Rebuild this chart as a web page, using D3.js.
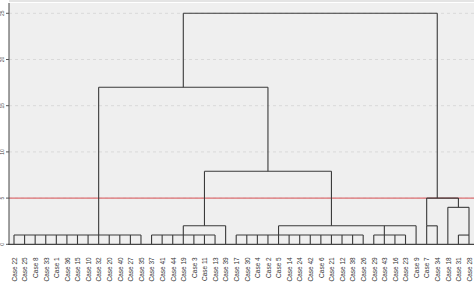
<!DOCTYPE html>
<html>
<head>
<meta charset="utf-8">
<script src="https://cdn.jsdelivr.net/npm/d3@7"></script>
<style>
body { margin: 0; background: #fff; }
svg text { font-family: "Liberation Sans", Arial, sans-serif; }
</style>
</head>
<body>
<div id="chart"></div>
<script>
var width = 474;
var height = 286;

// leaf order along the bottom
var cases = ["Case 22", "Case 25", "Case 8", "Case 33", "Case 1", "Case 36", "Case 15",
  "Case 10", "Case 32", "Case 20", "Case 40", "Case 27", "Case 35", "Case 37", "Case 41",
  "Case 44", "Case 19", "Case 3", "Case 11", "Case 13", "Case 39", "Case 17", "Case 30",
  "Case 4", "Case 2", "Case 5", "Case 14", "Case 24", "Case 42", "Case 6", "Case 21",
  "Case 12", "Case 38", "Case 26", "Case 29", "Case 43", "Case 16", "Case 23", "Case 9",
  "Case 7", "Case 34", "Case 18", "Case 31", "Case 28"];

// clusters (rescaled distance), children are leaves or earlier clusters
var nodeNames = ["A", "B1", "B", "C1", "C2", "C", "BC", "ABC", "D1", "D2", "D3", "D", "root"];
var nodeHeights = [1, 1, 2, 1, 1, 2, 7.9, 17, 2, 1, 4, 5, 25];
var nodeChildren = [
  cases.slice(0, 13),
  cases.slice(13, 20),
  ["B1", "Case 39"],
  cases.slice(21, 34),
  ["Case 29", "Case 43", "Case 16", "Case 23"],
  ["C1", "C2", "Case 9"],
  ["B", "C"],
  ["A", "BC"],
  ["Case 7", "Case 34"],
  ["Case 31", "Case 28"],
  ["Case 18", "D2"],
  ["D1", "D3"],
  ["ABC", "D"]
];
// leaf where the link to the parent is attached (null = centre)
var nodeAnchor = ["Case 32", null, null, "Case 5", "Case 43", "Case 21", null, null,
  "Case 7", "Case 28", null, "Case 34", null];

var yTicks = [0, 5, 10, 15, 20, 25];
var cutHeight = 5;

var plotLeft = 9, plotBottom = 244.3, plotTop = 13.3, plotRight = 474;

var svg = d3.select("#chart").append("svg")
  .attr("width", width)
  .attr("height", height);

var xScale = d3.scalePoint().domain(cases).range([14, 469]);
var yScale = d3.scaleLinear().domain([0, 25]).range([plotBottom, plotTop]);

// panel
svg.append("rect").attr("x", plotLeft).attr("y", 0).attr("width", plotRight - plotLeft).attr("height", 2)
  .attr("fill", "#e4e4e4");
svg.append("rect").attr("x", plotLeft).attr("y", 3).attr("width", plotRight - plotLeft).attr("height", plotBottom - 3)
  .attr("fill", "#efefef");

// grid
svg.append("g").selectAll("line").data(yTicks.slice(1)).enter().append("line")
  .attr("x1", plotLeft).attr("x2", plotRight)
  .attr("y1", function(d) { return yScale(d); })
  .attr("y2", function(d) { return yScale(d); })
  .attr("stroke", "#d9d9d9")
  .attr("stroke-dasharray", "3,3");

// cut line
svg.append("line")
  .attr("x1", plotLeft).attr("x2", plotRight)
  .attr("y1", yScale(cutHeight)).attr("y2", yScale(cutHeight))
  .attr("stroke", "#dc6f72").attr("stroke-width", 1.2);

// positions of leaves and clusters
var pos = {};
var hgt = {};
cases.forEach(function(c) { pos[c] = xScale(c); hgt[c] = 0; });
nodeNames.forEach(function(n, i) {
  var xs = nodeChildren[i].map(function(c) { return pos[c]; });
  pos[n] = nodeAnchor[i] ? xScale(nodeAnchor[i]) : (d3.min(xs) + d3.max(xs)) / 2;
  hgt[n] = nodeHeights[i];
});

var links = svg.append("g")
  .attr("stroke", "#3a3a3a")
  .attr("stroke-width", 1.1)
  .attr("fill", "none");

nodeNames.forEach(function(n, i) {
  var kids = nodeChildren[i];
  var xs = kids.map(function(c) { return pos[c]; });
  links.selectAll(null).data(kids).enter().append("line")
    .attr("x1", function(c) { return pos[c]; })
    .attr("x2", function(c) { return pos[c]; })
    .attr("y1", function(c) { return yScale(hgt[c]); })
    .attr("y2", yScale(nodeHeights[i]));
  links.append("line")
    .attr("x1", d3.min(xs)).attr("x2", d3.max(xs))
    .attr("y1", yScale(nodeHeights[i])).attr("y2", yScale(nodeHeights[i]));
});

// y axis
var yAxis = d3.axisLeft(yScale).tickValues(yTicks).tickSize(3).tickPadding(1);
var gy = svg.append("g").attr("transform", "translate(" + plotLeft + ",0)").call(yAxis);
gy.select(".domain").attr("stroke", "#444").attr("d", "M0," + plotBottom + "V3");
gy.selectAll(".tick line").attr("stroke", "#555");
gy.selectAll(".tick").attr("transform", null);
gy.selectAll(".tick line")
  .attr("y1", function(d) { return yScale(d); })
  .attr("y2", function(d) { return yScale(d); });
gy.selectAll("text")
  .attr("font-size", 5)
  .attr("fill", "#444")
  .attr("text-anchor", "middle")
  .attr("transform", "rotate(-90)")
  .attr("x", function(d) { return -yScale(d); })
  .attr("y", -5)
  .attr("dy", "0");

// x axis
var xAxis = d3.axisBottom(xScale).tickSize(0);
var gx = svg.append("g").attr("transform", "translate(0," + plotBottom + ")").call(xAxis);
gx.select(".domain").remove();
gx.selectAll("text")
  .attr("font-size", 6.5)
  .attr("fill", "#333")
  .attr("text-anchor", "end")
  .attr("transform", "rotate(-90)")
  .attr("x", -13)
  .attr("y", 0)
  .attr("dy", "0.35em");

svg.append("line")
  .attr("x1", plotLeft - 1).attr("x2", plotRight)
  .attr("y1", plotBottom).attr("y2", plotBottom)
  .attr("stroke", "#444").attr("stroke-width", 1.2);
</script>
</body>
</html>
